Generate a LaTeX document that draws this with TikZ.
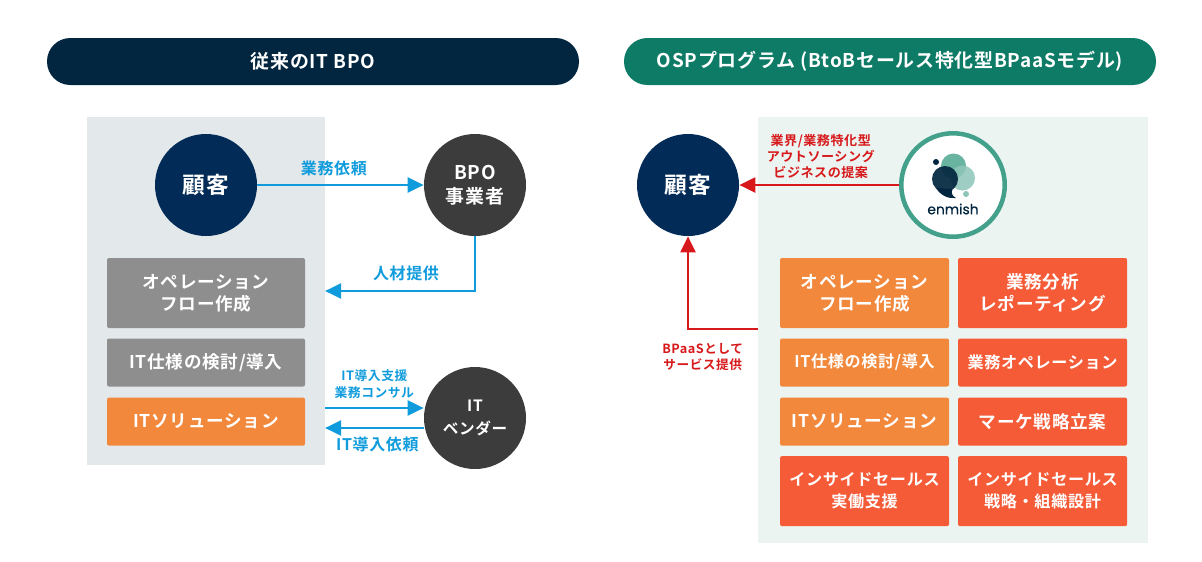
\documentclass[tikz,border=0pt]{standalone}
\usepackage{fontspec}
\setmainfont{Noto Sans CJK JP}[BoldFont={Noto Sans CJK JP Bold},LetterSpace=4]
\newfontfamily\logofont{Poppins}[FakeBold=0.5]
\usetikzlibrary{arrows.meta, positioning}
\definecolor{navyhead}{HTML}{02263F}
\definecolor{greenhead}{HTML}{0E7B66}
\definecolor{navycirc}{HTML}{022B57}
\definecolor{darkcirc}{HTML}{3C3C3C}
\definecolor{panelgray}{HTML}{E3E8EB}
\definecolor{panelgreen}{HTML}{EBF4F1}
\definecolor{boxgray}{HTML}{8E8E8E}
\definecolor{boxorange}{HTML}{F2883C}
\definecolor{boxred}{HTML}{F55B37}
\definecolor{lineblue}{HTML}{0F9BDC}
\definecolor{linered}{HTML}{D7191B}
\definecolor{ringgreen}{HTML}{43A08A}
\tikzset{
  headbar/.style={rounded corners=17.5pt, minimum width=399pt, minimum height=35.25pt, inner sep=0pt, text=white, font=\bfseries\fontsize{14.2}{16}\selectfont},
  circ/.style={circle, minimum size=76.5pt, inner sep=0pt, text=white, align=center},
  bigbox/.style={rounded corners=1.5pt, minimum height=52.5pt, inner sep=0pt, text=white, align=center, font=\bfseries\fontsize{13.2}{16.5}\selectfont},
  smallbox/.style={bigbox, minimum height=36pt},
  tighttext/.style={font=\bfseries\fontsize{12.1}{16.5}\selectfont},
  wideleft/.style={minimum width=148.5pt},
  narrow/.style={minimum width=126.75pt},
  bluearrow/.style={draw=lineblue, line width=2.2pt, -{Triangle[length=12pt,width=11pt]}},
  redarrow/.style={draw=linered, line width=2.2pt, -{Triangle[length=12pt,width=11pt]}},
  bluelabel/.style={text=lineblue, align=center, inner sep=0pt, font=\bfseries\fontsize{12}{14}\selectfont},
  tinyblue/.style={bluelabel, font=\bfseries\fontsize{9.6}{12.5}\selectfont},
  redlabel/.style={text=linered, align=center, inner sep=0pt, font=\bfseries\fontsize{9.8}{11.8}\selectfont}
}
\begin{document}
\begin{tikzpicture}[x=0.75pt, y=-0.75pt]
    \useasboundingbox (0,0) rectangle (1202,561);
    % panels
    \fill[panelgray] (87,117) rectangle (325,465);
    \fill[panelgreen] (758,117) rectangle (1148,543);
    % headers
    \node[headbar, fill=navyhead] (headold) at (313,61.5) {従来のIT BPO};
    \node[headbar, fill=greenhead] (headosp) at (890,61.5) {OSPプログラム (BtoBセールス特化型BPaaSモデル)};

    % left side
    \node[circ, fill=navycirc, font=\bfseries\fontsize{17}{20}\selectfont] (custold) at (206,185) {顧客};
    \node[circ, fill=darkcirc, font=\bfseries\fontsize{14.2}{18}\selectfont] (bpo) at (475,185) {BPO\\事業者};
    \node[circ, fill=darkcirc, font=\bfseries\fontsize{11.7}{17}\selectfont] (vendor) at (475,418) {IT\\ベンダー};
    \node[bigbox, wideleft, fill=boxgray] (oldflow) at (206,293) {オペレーション\\フロー作成};
    \node[smallbox, wideleft, fill=boxgray, below=7.5pt of oldflow] (oldspec) {IT仕様の検討/導入};
    \node[smallbox, wideleft, fill=boxorange, below=7.9pt of oldspec] (oldsol) {ITソリューション};
    \coordinate (staffend) at (325,291);
    \coordinate (supportstart) at (325,408);
    \coordinate (requestend) at (325,428);
    \draw[bluearrow] (custold) -- node[bluelabel, pos=0.46, above=5.5pt] {業務依頼} (bpo);
    \draw[bluearrow] (bpo.south) |- node[bluelabel, pos=0.73, above=6.5pt] {人材提供} (staffend);
    \draw[bluearrow] (supportstart) -- node[tinyblue, above=6pt] {IT導入支援\\業務コンサル} (vendor.west |- supportstart);
    \draw[bluearrow] (vendor.west |- requestend) -- node[bluelabel, pos=0.47, below=5.5pt] {IT導入依頼} (requestend);

    % right side
    \node[circ, fill=navycirc, font=\bfseries\fontsize{17}{20}\selectfont] (custosp) at (688,185) {顧客};
    \node[circle, draw=ringgreen, line width=3.4pt, fill=white, minimum size=77.6pt, inner sep=0pt] (enmish) at (953,185) {};
    \fill[ringgreen!80!white] (953.5,166) circle (12.5);
    \fill[ringgreen!60!white, fill opacity=.85] (962.5,178) circle (12.5);
    \fill[navyhead, fill opacity=.92] (945,179) circle (13);
    \fill[navyhead] (936,188) .. controls (941,196) and (949,199) .. (956,198) .. controls (952,196) and (951,193) .. (952.5,189) -- cycle;
    \fill[navyhead] (936,162) circle (3);
    \fill[ringgreen!60!white] (966,194) circle (3);
    \node[text=navyhead, inner sep=0pt, font=\logofont\fontsize{10.4}{14}\selectfont] (enmishname) at (953,209) {enmish};

    \node[bigbox, narrow, fill=boxorange] (flow) at (864.5,293) {オペレーション\\フロー作成};
    \node[smallbox, narrow, tighttext, fill=boxorange, below=7.5pt of flow] (spec) {IT仕様の検討/導入};
    \node[smallbox, narrow, fill=boxorange, below=7.9pt of spec] (sol) {ITソリューション};
    \node[bigbox, narrow, tighttext, fill=boxred, below=7.5pt of sol] (exec) {インサイドセールス\\実働支援};
    \node[bigbox, narrow, fill=boxred, right=6.4pt of flow] (report) {業務分析\\レポーティング};
    \node[smallbox, narrow, tighttext, fill=boxred, below=7.5pt of report] (ops) {業務オペレーション};
    \node[smallbox, narrow, fill=boxred, below=7.9pt of ops] (market) {マーケ戦略立案};
    \node[bigbox, narrow, tighttext, fill=boxred, below=7.5pt of market] (design) {インサイドセールス\\戦略・組織設計};
    \coordinate (bpaasstart) at (758,329);
    \draw[redarrow] (enmish) -- node[redlabel, pos=0.49, above=4pt] {業界/業務特化型\\アウトソーシング\\ビジネスの提案} (custosp);
    \draw[redarrow] (bpaasstart) -| (custosp.south);
    \node[redlabel, font=\bfseries\fontsize{9.5}{11.8}\selectfont, below=10.5pt of bpaasstart, xshift=-41.5pt] (bpaaslabel) {BPaaSとして\\サービス提供};
\end{tikzpicture}
\end{document}
